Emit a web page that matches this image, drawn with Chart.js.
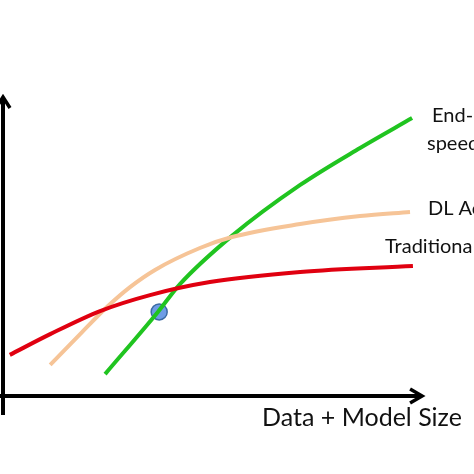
<!DOCTYPE html>
<html>
<head>
<meta charset="utf-8">
<script src="https://cdn.jsdelivr.net/npm/chart.js@4/dist/chart.umd.min.js"></script>
<style>
  html, body { margin: 0; padding: 0; background: #fff; }
  #wrap { width: 474px; height: 474px; }
</style>
</head>
<body>
<div id="wrap"><canvas id="c" width="474" height="474"></canvas></div>
<script>
// curves (arbitrary units, 0..10 on both axes)
var traditionalX = [0.14, 1.11, 2.31, 3.51, 4.95, 7.12, 9.83]
var traditionalY = [1.39, 2.09, 2.87, 3.41, 3.85, 4.19, 4.39]

var dlX = [1.11, 1.83, 2.50, 3.03, 3.63, 4.71, 5.48, 7.12, 8.56, 9.76]
var dlY = [1.05, 2.09, 3.04, 3.68, 4.26, 5.00, 5.37, 5.81, 6.08, 6.22]

var e2eX = [2.43, 3.70, 4.23, 5.48, 7.12, 8.56, 9.81]
var e2eY = [0.74, 2.84, 3.78, 5.41, 7.13, 8.38, 9.39]

var markerX = [3.73]
var markerY = [2.84]

var xLabel = "Data + Model Size"
var curveLabels = [
  { lines: ["End-", "speed"] },
  { lines: ["DL Ac"] },
  { lines: ["Traditiona"] }
]

function pts(xs, ys) {
  return xs.map(function(x, i) { return { x: x, y: ys[i] } })
}

var axesPlugin = {
  id: "axes",
  beforeDatasetsDraw: function(chart) {
    var ctx = chart.ctx
    var xs = chart.scales.x, ys = chart.scales.y
    var x0 = xs.getPixelForValue(0) - 1
    var y0 = ys.getPixelForValue(0)
    var yTop = ys.getPixelForValue(10.1)
    var xEnd = xs.getPixelForValue(10.05)
    ctx.save()
    ctx.strokeStyle = "#000"
    ctx.lineWidth = 4
    ctx.lineCap = "butt"
    ctx.beginPath()
    ctx.moveTo(x0, y0 + 19)
    ctx.lineTo(x0, yTop)
    ctx.moveTo(-4, y0)
    ctx.lineTo(xEnd, y0)
    ctx.stroke()
    ctx.lineWidth = 3.5
    ctx.beginPath()
    ctx.moveTo(x0 - 7, yTop + 11)
    ctx.lineTo(x0, yTop)
    ctx.lineTo(x0 + 7, yTop + 11)
    ctx.moveTo(xEnd - 12, y0 - 7)
    ctx.lineTo(xEnd, y0)
    ctx.lineTo(xEnd - 12, y0 + 7)
    ctx.stroke()
    ctx.restore()
  },
  afterDraw: function(chart) {
    var ctx = chart.ctx
    ctx.save()
    ctx.fillStyle = "#111"
    ctx.textBaseline = "alphabetic"
    ctx.font = "25px Lato, 'Open Sans', sans-serif"
    ctx.fillText(xLabel, 262, 426)
    ctx.font = "20px Lato, 'Open Sans', sans-serif"
    ctx.fillText(curveLabels[0].lines[0], 432, 122)
    ctx.fillText(curveLabels[0].lines[1], 427, 150)
    ctx.fillText(curveLabels[1].lines[0], 428, 215)
    ctx.fillText(curveLabels[2].lines[0], 385, 253)
    ctx.restore()
  }
}

var chart = new Chart(document.getElementById("c"), {
  type: "line",
  data: {
    datasets: [
      {
        label: "Traditional",
        data: pts(traditionalX, traditionalY),
        borderColor: "#e00010",
        borderWidth: 4,
        pointRadius: 0,
        cubicInterpolationMode: "monotone",
        clip: false
      },
      {
        label: "DL Accuracy",
        data: pts(dlX, dlY),
        borderColor: "#f6c497",
        borderWidth: 4,
        pointRadius: 0,
        cubicInterpolationMode: "monotone",
        clip: false
      },
      {
        label: "End-to-end speech",
        data: pts(e2eX, e2eY),
        borderColor: "#20c420",
        borderWidth: 4,
        pointRadius: 0,
        cubicInterpolationMode: "monotone",
        clip: false
      },
      {
        label: "crossover",
        type: "scatter",
        data: pts(markerX, markerY),
        backgroundColor: "#6e9de6",
        borderColor: "#3b6aa3",
        borderWidth: 1.5,
        pointRadius: 8,
        clip: false
      }
    ]
  },
  options: {
    responsive: false,
    animation: false,
    layout: { autoPadding: false, padding: { left: 4, right: 54, top: 100, bottom: 78 } },
    plugins: { legend: { display: false }, tooltip: { enabled: false } },
    scales: {
      x: { type: "linear", min: 0, max: 10, display: false },
      y: { type: "linear", min: 0, max: 10, display: false }
    }
  },
  plugins: [axesPlugin]
})
</script>
</body>
</html>
